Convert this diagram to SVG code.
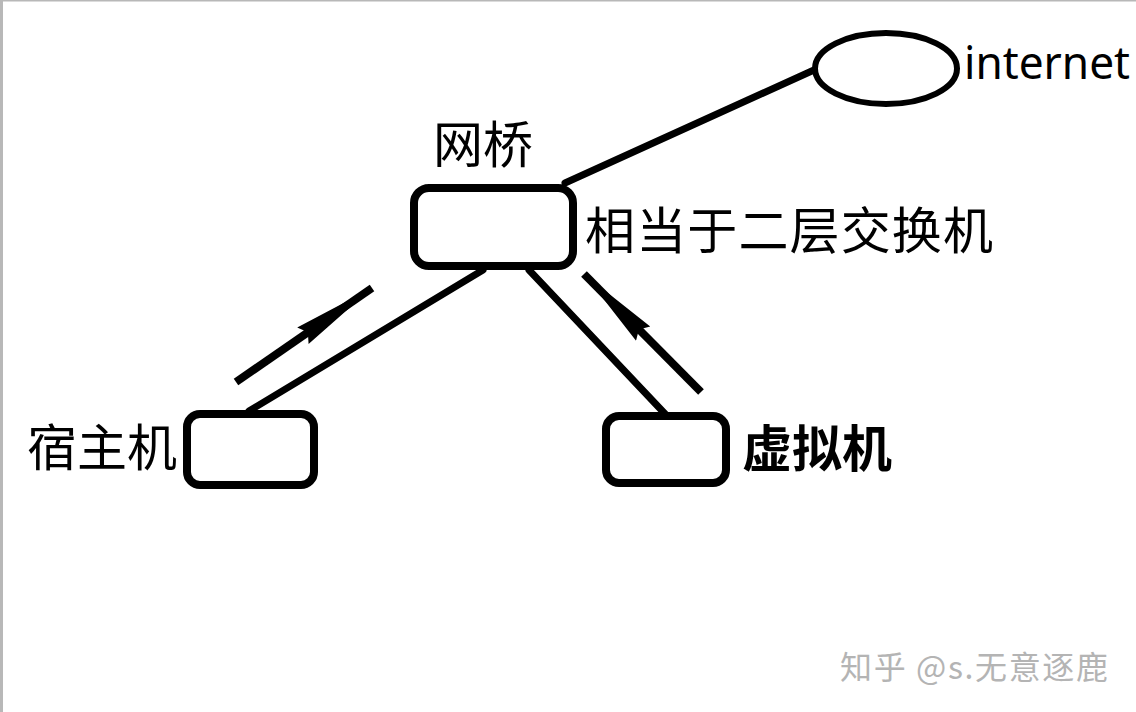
<svg xmlns="http://www.w3.org/2000/svg" width="1136" height="712" viewBox="0 0 1136 712">
<style>
.box{fill:#fff;stroke:#000;stroke-width:8}
.ln{stroke:#000;stroke-width:7;fill:none;stroke-linecap:round}
.ar{stroke:#000;stroke-width:8;fill:none}
.t{font-family:"Noto Sans CJK SC","Noto Sans",sans-serif;font-size:50px;fill:#000}
.wm{font-family:"Noto Sans CJK SC","Noto Sans",sans-serif;font-size:32px;fill:#b4b4b4}
</style>
<defs>
<marker id="head" markerUnits="userSpaceOnUse" markerWidth="95" markerHeight="30" refX="84" refY="12" orient="auto">
<path d="M0,2 L84,12 L0,22 L6,12 Z" fill="#000"/>
</marker>
</defs>
<rect x="0" y="0" width="1136" height="712" fill="#fff"/>
<rect x="0" y="0" width="3" height="712" fill="#b8b8b8"/>
<rect x="0" y="0" width="1136" height="1.5" fill="#b8b8b8"/>
<g id="connectors">
<line class="ln" x1="565" y1="183" x2="814" y2="70"/>
<line class="ln" x1="483" y1="270" x2="249" y2="411"/>
<line class="ln" x1="529" y1="270" x2="668" y2="417"/>
<line class="ar" x1="236" y1="382" x2="372" y2="288" marker-end="url(#head)"/>
<line class="ar" x1="701" y1="392" x2="584" y2="274" marker-end="url(#head)"/>
</g>
<g id="internet">
<ellipse cx="886" cy="68.5" rx="71" ry="35.5" fill="#fff" stroke="#000" stroke-width="6"/>
<text x="964" y="79" font-family="'Noto Sans','Open Sans',sans-serif" font-size="46" textLength="166" lengthAdjust="spacingAndGlyphs">internet</text>
</g>
<g id="bridge">
<rect class="box" x="414" y="188" width="159" height="78" rx="15"/>
<text class="t" x="433" y="163">网桥</text>
<text class="t" x="585" y="249" font-size="51" textLength="408">相当于二层交换机</text>
</g>
<g id="host">
<rect class="box" x="187" y="414" width="127" height="71" rx="13"/>
<text class="t" x="27" y="466">宿主机</text>
</g>
<g id="vm">
<rect class="box" x="606" y="416" width="120" height="67" rx="13"/>
<text class="t" x="742" y="467" font-weight="bold">虚拟机</text>
</g>
<text class="wm" x="840" y="679" textLength="268">知乎 @s.无意逐鹿</text>
</svg>
